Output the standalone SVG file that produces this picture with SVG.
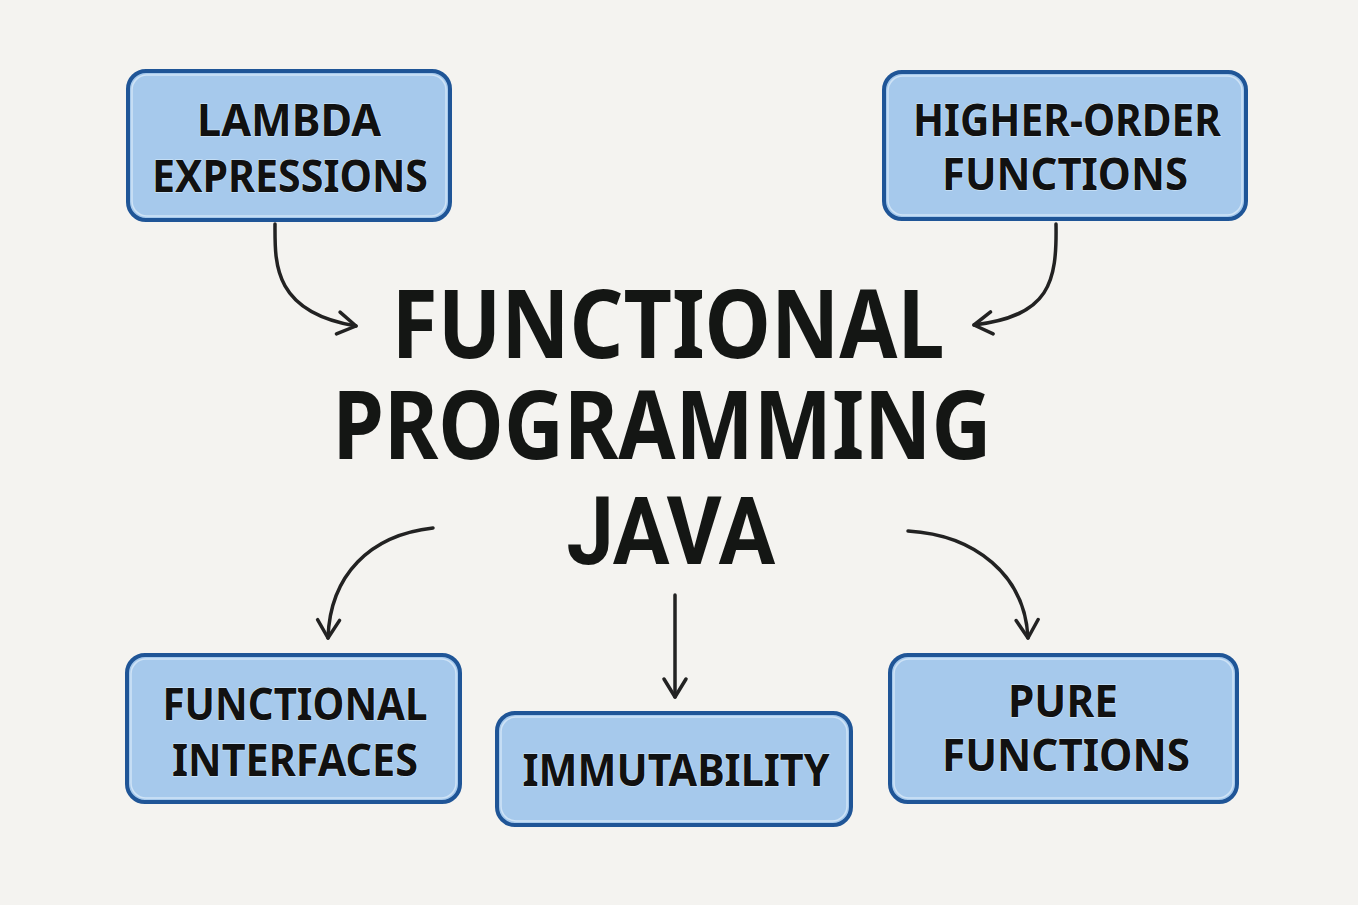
<svg xmlns="http://www.w3.org/2000/svg" width="1358" height="905" viewBox="0 0 1358 905">
<defs>
<style>
.box{fill:#a6c9ec;stroke:#1f5597;stroke-width:4}
.inner{fill:none;stroke:#cfe3f6;stroke-width:1.5}
.lbl{font-family:"Noto Sans","Open Sans","DejaVu Sans",sans-serif;font-weight:700;font-size:45px;fill:#111;text-anchor:middle;stroke:#d8ebfb;stroke-width:1;paint-order:stroke}
.title{font-family:"Noto Sans","Open Sans","DejaVu Sans",sans-serif;font-weight:700;font-size:95px;fill:#141614;text-anchor:middle}
.titleb{font-family:Roboto,"Noto Sans",sans-serif;font-weight:700;font-size:95px;fill:#141614;text-anchor:middle}
.conn{fill:none;stroke:#222;stroke-width:3.5;stroke-linecap:round}
</style>
<marker id="ah" viewBox="-22 -14 26 28" refX="0" refY="0" markerWidth="26" markerHeight="28" markerUnits="userSpaceOnUse" orient="auto" overflow="visible">
<path d="M-18,-11 L0,0 L-18,11" fill="none" stroke="#222" stroke-width="3.5" stroke-linecap="round" stroke-linejoin="round"/>
</marker>
</defs>
<rect width="1358" height="905" fill="#f4f3f0"/>

<g id="connectors">
<path class="conn" d="M275,224 C275,262 272,312 356,326" marker-end="url(#ah)"/>
<path class="conn" d="M1056,224 C1057,282 1050,316 974,325" marker-end="url(#ah)"/>
<path class="conn" d="M433,528 C370,535 330,575 328,638" marker-end="url(#ah)"/>
<path class="conn" d="M675,595 L675,697" marker-end="url(#ah)"/>
<path class="conn" d="M908,531 C975,535 1025,575 1028,638" marker-end="url(#ah)"/>
</g>

<g id="title">
<text class="title" x="668" y="358" textLength="553" lengthAdjust="spacingAndGlyphs">FUNCTIONAL</text>
<text class="title" x="662" y="459" textLength="659" lengthAdjust="spacingAndGlyphs">PROGRAMMING</text>
<text class="titleb" x="671" y="564" textLength="209" lengthAdjust="spacingAndGlyphs">JAVA</text>
</g>

<g id="lambda">
<rect class="box" x="128" y="71" width="322" height="149" rx="18"/>
<rect class="inner" x="132" y="75" width="314" height="141" rx="15"/>
<text class="lbl" x="289" y="136" textLength="184" lengthAdjust="spacingAndGlyphs">LAMBDA</text>
<text class="lbl" x="290" y="192" textLength="276" lengthAdjust="spacingAndGlyphs">EXPRESSIONS</text>
</g>

<g id="higher-order">
<rect class="box" x="884" y="72" width="362" height="147" rx="18"/>
<rect class="inner" x="888" y="76" width="354" height="139" rx="15"/>
<text class="lbl" x="1067" y="136" textLength="308" lengthAdjust="spacingAndGlyphs">HIGHER-ORDER</text>
<text class="lbl" x="1065" y="190" textLength="246" lengthAdjust="spacingAndGlyphs">FUNCTIONS</text>
</g>

<g id="functional-interfaces">
<rect class="box" x="127" y="655" width="333" height="147" rx="18"/>
<rect class="inner" x="131" y="659" width="325" height="139" rx="15"/>
<text class="lbl" x="295" y="720" textLength="265" lengthAdjust="spacingAndGlyphs">FUNCTIONAL</text>
<text class="lbl" x="295" y="776" textLength="246" lengthAdjust="spacingAndGlyphs">INTERFACES</text>
</g>

<g id="immutability">
<rect class="box" x="497" y="713" width="354" height="112" rx="18"/>
<rect class="inner" x="501" y="717" width="346" height="104" rx="15"/>
<text class="lbl" x="676" y="786" textLength="307" lengthAdjust="spacingAndGlyphs">IMMUTABILITY</text>
</g>

<g id="pure-functions">
<rect class="box" x="890" y="655" width="347" height="147" rx="18"/>
<rect class="inner" x="894" y="659" width="339" height="139" rx="15"/>
<text class="lbl" x="1063" y="717" textLength="110" lengthAdjust="spacingAndGlyphs">PURE</text>
<text class="lbl" x="1066" y="771" textLength="248" lengthAdjust="spacingAndGlyphs">FUNCTIONS</text>
</g>
</svg>
